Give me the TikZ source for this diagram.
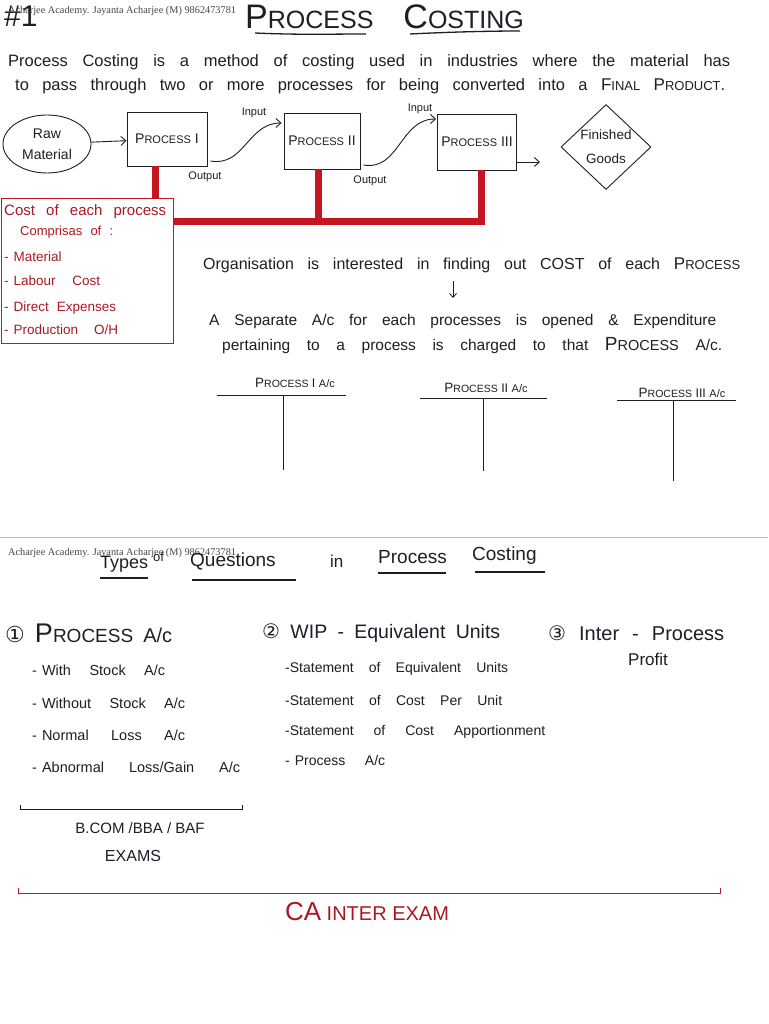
\documentclass[tikz,border=0pt]{standalone}
\usepackage{fontspec}
\setmainfont{Liberation Sans}
\newfontfamily\djv{DejaVu Sans}
\newfontfamily\wmf{Liberation Serif}
\usetikzlibrary{shapes.geometric,arrows.meta,calc}
\definecolor{ink}{RGB}{30,30,40}
\definecolor{redtext}{RGB}{170,25,35}
\definecolor{redbar}{RGB}{195,22,32}
\definecolor{wmgray}{RGB}{70,70,70}
\newcommand\fs[1]{\fontsize{#1}{#1}\selectfont}
\newcommand\spread[2]{\makebox[#1][s]{#2}}
\newcommand\Proc[2]{{\fs{#1}P\fs{#2}ROCESS}}
\newcommand\dsh{-\kern5pt}
\begin{document}
\begin{tikzpicture}[x=1pt,y=-1pt,
  every node/.style={inner sep=0pt, text=ink},
  txt/.style={anchor=west},
  rtxt/.style={anchor=west, text=redtext},
  pbox/.style={draw=ink, line width=0.9pt, minimum width=80pt, minimum height=54pt, font={\fs{14}}},
  conn/.style={draw=ink, line width=0.9pt, -{Straight Barb[length=5pt,width=9pt]}},
  bar/.style={draw=redbar, line width=7pt},
  hand/.style={draw=ink, line width=1pt},
  redline/.style={draw=redbar, line width=1pt},
]
\fill[white] (0,0) rectangle (768,1024);
\useasboundingbox (0,0) rectangle (768,1024);

% ---------- header ----------
\node[txt, font={\fs{30}}] (hash) at (4,16) {\#1};
\node[txt, font={\wmf\fs{10.3}}, text=wmgray] (wm1) at (8,11) {Acharjee Academy. Jayanta Acharjee (M) 9862473781};
\node[txt] (title) at (245,17) {\Proc{34}{25}\hspace{30pt}{\fs{34}C\fs{25}OSTING}};
\draw[hand, line width=1.3pt] (255,33) .. controls (300,35) and (330,34) .. (366,34);
\draw[hand, line width=1.3pt] (410,34) .. controls (450,32) and (490,31) .. (520,31);

% ---------- intro paragraph ----------
\node[txt, font={\fs{16.5}}] (para1) at (8,62) {\spread{722pt}{Process Costing is a method of costing used in industries where the material has}};
\node[txt, font={\fs{16.5}}] (para2) at (15,86) {\spread{710pt}{to pass through two or more processes for being converted into a {\fs{17}F\fs{13}INAL} {\fs{17}P\fs{13}RODUCT}.}};

% ---------- flow ----------
\node[draw=ink, line width=0.9pt, shape=ellipse, minimum width=88pt, minimum height=58pt, align=center, font={\fontsize{14}{21}\selectfont}] (rm) at (47,144) {Raw\\Material};
\node[pbox] (p1) at (167,139) {\Proc{14}{11}\ I};
\node[pbox, minimum width=76pt, minimum height=56pt] (p2) at (322,141) {\Proc{14}{11}\ II};
\node[pbox, minimum width=79pt, minimum height=56pt] (p3) at (477,142) {\Proc{14}{11}\ III};
\node[draw=ink, line width=0.9pt, shape=diamond, minimum width=90pt, minimum height=82pt, align=center, font={\fontsize{13.5}{24}\selectfont}] (fg) at (606,147) {Finished\\Goods};

\draw[conn] (rm) -- (p1);
\draw[conn] ($(p1.east)+(3,22)$) .. controls +(34,6) and +(-34,0) .. ($(p2.west)+(-2,-18)$);
\draw[conn] ($(p2.east)+(3,24)$) .. controls +(36,6) and +(-36,0) .. ($(p3.west)+(-1,-23)$);
\coordinate (p3out) at (540,162);
\draw[conn] (p3.east |- p3out) -- (p3out);

\node[font={\fs{11}}] (in1) at (254,113) {Input};
\node[font={\fs{11}}] (out1) at (205,177) {Output};
\node[font={\fs{11}}] (in2) at (420,109) {Input};
\node[font={\fs{11}}] (out2) at (370,181) {Output};

% ---------- cost box ----------
\node[draw=redbar, line width=1pt, anchor=north west, minimum width=172pt, minimum height=145pt] (cost) at (1,198) {};
\node[rtxt, font={\fs{15}}] (c1) at (4,212) {\spread{162pt}{Cost of each process}};
\node[rtxt, font={\fs{13}}] (c2) at (20,232) {\spread{93pt}{Comprisas of :}};
\node[rtxt, font={\fs{13.5}}] (c3) at (4,257) {\dsh Material};
\node[rtxt, font={\fs{13.5}}] (c4) at (4,281) {\spread{96pt}{\dsh Labour Cost}};
\node[rtxt, font={\fs{13.5}}] (c5) at (4,308) {\spread{112pt}{\dsh Direct Expenses}};
\node[rtxt, font={\fs{13.5}}] (c6) at (4,330) {\spread{114pt}{\dsh Production O/H}};

% red bus bars
\coordinate (bus1) at (155,222);
\coordinate (bus2) at (318,222);
\coordinate (bus3) at (481,222);
\draw[bar] (bus1 |- cost.north) -- (bus1 |- p1.south);
\draw[bar] (bus2) -- (bus2 |- p2.south);
\draw[bar] (cost.east |- bus3) -- (bus3) -- (bus3 |- p3.south);

% ---------- organisation text ----------
\node[txt, font={\fs{16}}] (org) at (203,265) {\spread{537pt}{Organisation is interested in finding out COST of each {\fs{17}P\fs{13}ROCESS}}};
\coordinate (da1) at (453,281);
\coordinate (da2) at (453,298);
\draw[conn, line width=0.8pt, -{Straight Barb[length=4pt,width=7pt]}] (da1) -- (da2);
\node[txt, font={\fs{15.5}}] (sep1) at (209,321) {\spread{507pt}{A Separate A/c for each processes is opened \& Expenditure}};
\node[txt, font={\fs{15.5}}] (sep2) at (222,346) {\spread{500pt}{pertaining to a process is charged to that \Proc{19}{14.5} A/c.}};

% ---------- T accounts ----------
\node[font={\fs{12.5}}] (t1) at (295,383) {\Proc{13.5}{10.5}\ I {\fs{11}A/c}};
\node[font={\fs{12.5}}] (t2) at (486,388) {\Proc{13.5}{10.5}\ II {\fs{11}A/c}};
\node[font={\fs{12.5}}] (t3) at (682,393) {\Proc{13.5}{10.5}\ III {\fs{11}A/c}};
\coordinate (t1l) at (217,395); \coordinate (t1r) at (346,395); \coordinate (t1v) at (283,395); \coordinate (t1b) at (283,470);
\coordinate (t2l) at (420,398); \coordinate (t2r) at (547,398); \coordinate (t2v) at (483,398); \coordinate (t2b) at (483,471);
\coordinate (t3l) at (617,400); \coordinate (t3r) at (736,400); \coordinate (t3v) at (673,400); \coordinate (t3b) at (673,481);
\draw[hand] (t1l) -- (t1r); \draw[hand] (t1v) -- (t1b);
\draw[hand] (t2l) -- (t2r); \draw[hand] (t2v) -- (t2b);
\draw[hand] (t3l) -- (t3r); \draw[hand] (t3v) -- (t3b);

% page join
\draw[black!25, line width=0.8pt] (0,537) -- (768,537);

% ---------- second page ----------
\node[txt, font={\wmf\fs{10.3}}, text=wmgray] (wm2) at (8,553) {Acharjee Academy. Jayanta Acharjee (M) 9862473781};
\node[txt, font={\fs{18}}] (w1) at (100,564) {Types};
\node[txt, font={\fs{13}}] (w2) at (153,557) {of};
\node[txt, font={\fs{19}}] (w3) at (190,561) {\spread{110pt}{Questions}};
\node[txt, font={\fs{17}}] (w4) at (330,561) {in};
\node[txt, font={\fs{19}}] (w5) at (378,557) {Process};
\node[txt, font={\fs{19}}] (w6) at (472,556) {Costing};
\draw[hand, line width=1.2pt] (100,578) -- (148,578);
\draw[hand, line width=1.2pt] (192,580) -- (296,580);
\draw[hand, line width=1.2pt] (378,573) -- (446,573);
\draw[hand, line width=1.2pt] (475,572) -- (545,572);

\node[txt, font={\fs{20}}] (h1) at (5,633) {\spread{167pt}{{\djv\fs{22}①} \Proc{27}{19} A/c}};
\node[txt, font={\fs{19.5}}] (h2) at (262,633) {\spread{238pt}{{\djv\fs{20}②} WIP - Equivalent Units}};
\node[txt, font={\fs{20}}] (h3) at (548,633) {\spread{176pt}{{\djv\fs{20}③} Inter - Process}};
\node[font={\fs{17}}] (h3b) at (648,659) {Profit};

\node[txt, font={\fs{14.5}}] (l1) at (32,670) {\spread{133pt}{\dsh With Stock A/c}};
\node[txt, font={\fs{14.5}}] (l2) at (32,703) {\spread{153pt}{\dsh Without Stock A/c}};
\node[txt, font={\fs{14.5}}] (l3) at (32,735) {\spread{153pt}{\dsh Normal Loss A/c}};
\node[txt, font={\fs{14.5}}] (l4) at (32,767) {\spread{208pt}{\dsh Abnormal Loss/Gain A/c}};

\node[txt, font={\fs{14}}] (m1) at (285,669) {\spread{223pt}{-Statement of Equivalent Units}};
\node[txt, font={\fs{14}}] (m2) at (285,700) {\spread{217pt}{-Statement of Cost Per Unit}};
\node[txt, font={\fs{14}}] (m3) at (285,732) {\spread{260pt}{-Statement of Cost Apportionment}};
\node[txt, font={\fs{14}}] (m4) at (285,760) {\spread{100pt}{\dsh Process A/c}};

% B.COM bracket
\coordinate (b1) at (20,809); \coordinate (b2) at (242,809);
\draw[hand] ($(b1)+(0,-4)$) -- (b1) -- (b2) -- ($(b2)+(0,-4)$);
\node[font={\fs{15}}] (bcom) at (140,828) {B.COM /BBA / BAF};
\node[font={\fs{16}}] (exams) at (133,856) {EXAMS};

% CA inter
\coordinate (r1) at (18,893); \coordinate (r2) at (720,893);
\draw[redline] ($(r1)+(0,-5)$) -- (r1) -- (r2) -- ($(r2)+(0,-5)$);
\node[text=redtext] (ca) at (367,912) {{\fs{26}CA} \ {\fs{20}INTER} \ {\fs{20}EXAM}};
\end{tikzpicture}
\end{document}
